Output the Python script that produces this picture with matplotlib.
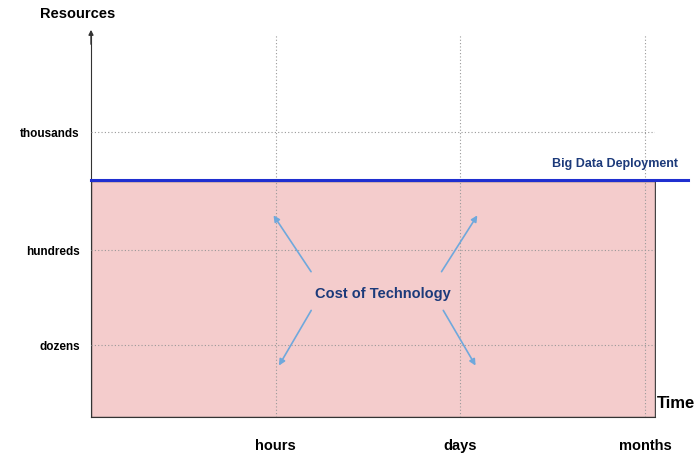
import matplotlib
matplotlib.use("Agg")
import matplotlib.pyplot as plt
plt.rcParams['font.family'] = ['Liberation Sans', 'DejaVu Sans']

x_labels = ["hours", "days", "months"]
x_pos = [1, 2, 3]
y_labels = ["dozens", "hundreds", "thousands"]
y_pos = [72, 167, 285]
deployment_level = 237
cost_top = 236

fig = plt.figure(figsize=(7, 4.65), dpi=100)
W, H = 700, 465
L, R, B, T = 91, 655, 417, 35
ax = fig.add_axes([L/W, 1-B/H, (R-L)/W, (B-T)/H])
ax.set_xlim(0, 3.054)
ax.set_ylim(0, 382)
for s in ["top", "right"]:
    ax.spines[s].set_visible(False)
ax.spines["left"].set_color("#333333")
ax.spines["bottom"].set_color("#333333")
ax.set_xticks(x_pos)
ax.set_xticklabels(x_labels, fontweight="bold", fontsize=10.5)
ax.set_yticks(y_pos)
ax.set_yticklabels(y_labels, fontweight="bold", fontsize=8.5)
ax.tick_params(length=0, pad=8)
ax.tick_params(axis="x", pad=16)
ax.set_axisbelow(False)
ax.grid(True, linestyle=(0, (1, 2)), color="#999999", linewidth=0.8)

ax.fill_between([0, 3.054], 0, cost_top, color="#f4cccc", zorder=1,
                edgecolor="#444444", linewidth=1)
ax.plot([0, 3.232], [deployment_level, deployment_level], color="#1f2fd0",
        linewidth=2.2, clip_on=False, zorder=3)
ax.text(3.18, deployment_level + 10, "Big Data Deployment", color="#1c3a7a",
        fontweight="bold", fontsize=9, ha="right", va="bottom")
ax.text(1.58, 123, "Cost of Technology", color="#1c3a7a", fontweight="bold",
        fontsize=10.5, ha="center", va="center")

arrows = [((1.20, 143), (0.98, 204)), ((1.89, 143), (2.10, 204)),
          ((1.20, 109), (1.01, 49)), ((1.90, 109), (2.09, 49))]
for (x0, y0), (x1, y1) in arrows:
    ax.annotate("", xy=(x1, y1), xytext=(x0, y0),
                arrowprops=dict(arrowstyle="-|>", color="#6fa8dc", lw=1.2,
                                mutation_scale=9), zorder=4)

ax.annotate("", xy=(0, 390), xytext=(0, 370),
            arrowprops=dict(arrowstyle="-|>", color="#333333", lw=1,
                            mutation_scale=7), annotation_clip=False)
fig.text(40/W, 1-14/H, "Resources", fontweight="bold", fontsize=10.5, va="center")
fig.text(657/W, 1-403/H, "Time", fontweight="bold", fontsize=12, va="center")

fig.savefig("out.png", dpi=100, facecolor="white")
